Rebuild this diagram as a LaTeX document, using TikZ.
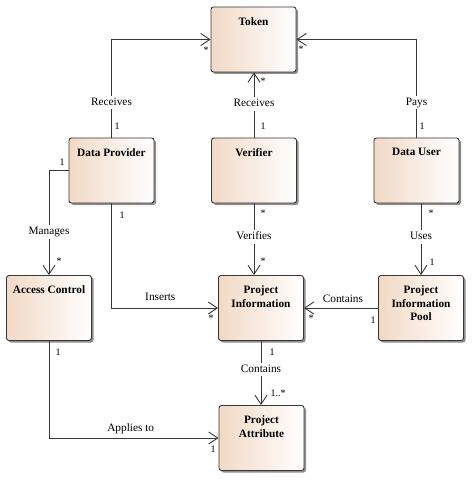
\documentclass[tikz,border=0pt]{standalone}
\usepackage{fontspec}
\setmainfont{Liberation Serif}
\usetikzlibrary{arrows.meta,shadows}
\definecolor{peach}{RGB}{242,217,198}
\definecolor{edge}{RGB}{55,55,55}
\tikzset{
  cls/.style={draw=edge, line width=0.9pt, rectangle, rounded corners=2.5pt,
    minimum width=85pt, minimum height=65pt, inner sep=0pt,
    left color=peach, right color=white,
    drop shadow={shadow xshift=2pt, shadow yshift=-2pt, fill=black!55, opacity=0.8}},
  ttl/.style={anchor=north, yshift=-10.5pt, inner sep=0pt, align=center,
    font=\fontsize{11.3pt}{13.6pt}\selectfont\bfseries},
  assoc/.style={draw=edge, line width=0.9pt, -{Straight Barb[length=9pt,width=12pt,line width=0.9pt]}},
  lbl/.style={inner sep=0pt, text height=7.5pt, text depth=2pt, font=\fontsize{11.3pt}{13.6pt}\selectfont},
  onl/.style={lbl, fill=white, inner xsep=0pt, inner ysep=2pt},
  mult/.style={inner sep=0pt, font=\fontsize{10pt}{12pt}\selectfont},
  star/.style={mult, yshift=-1.5pt},
}
\begin{document}
\begin{tikzpicture}[x=1pt,y=-1pt]
\useasboundingbox[fill=white] (0,0) rectangle (474,481);
% classes
\node[cls, label={[ttl]north:Token}] (token) at (253.5,39.5) {};
\node[cls, label={[ttl]north:Data Provider}] (dp) at (111.5,170.5) {};
\node[cls, label={[ttl]north:Verifier}] (ver) at (254,170.5) {};
\node[cls, label={[ttl]north:Data User}] (du) at (416.5,170.5) {};
\node[cls, label={[ttl]north:Access Control}] (ac) at (49,308) {};
\node[cls, label={[ttl]north:Project\\Information}] (pi) at (261,308) {};
\node[cls, label={[ttl]north:Project\\Information\\Pool}] (pip) at (421,308) {};
\node[cls, label={[ttl]north:Project\\Attribute}] (pa) at (261.5,438) {};
% associations
\draw[assoc] (dp.north) |- node[onl, pos=0.178] (l1) {Receives} (token.west);
\draw[assoc] (ver.north) -- node[onl, pos=0.515] (l2) {Receives} (ver.north |- token.south);
\draw[assoc] (du.north) |- node[onl, pos=0.178] (l3) {Pays} (token.east);
\draw[assoc] (dp.west) -| node[onl, pos=0.794] (l4) {Manages} (ac.north);
\draw[assoc] (dp.south) |- node[lbl, pos=0.729, above=5pt] (l5) {Inserts} (pi.west);
\draw[assoc] (ver.south) -- node[onl, pos=0.472] (l6) {Verifies} (ver.south |- pi.north);
\draw[assoc] (pip.north |- du.south) -- node[onl, pos=0.472] (l7) {Uses} (pip.north);
\draw[assoc] (pip.west) -- node[lbl, pos=0.474, above=3.5pt] (l8) {Contains} (pi.east);
\draw[assoc] (pi.south) -- node[onl, pos=0.446] (l9) {Contains} (pi.south |- pa.north);
\draw[assoc] (ac.south) |- node[lbl, pos=0.741, above=4pt] (l10) {Applies to} (pa.west);
% multiplicities
\node[mult] (m1) at (117,126) {1};
\node[star] (m2) at (206,49) {*};
\node[mult] (m3) at (263,126) {1};
\node[star] (m4) at (263,80) {*};
\node[mult] (m5) at (422,126) {1};
\node[star] (m6) at (301,48) {*};
\node[mult] (m7) at (62,162) {1};
\node[star] (m8) at (59,260) {*};
\node[mult] (m9) at (122,215) {1};
\node[star] (m10) at (211,317) {*};
\node[star] (m11) at (263,212) {*};
\node[star] (m12) at (263,260) {*};
\node[star] (m13) at (431,212) {*};
\node[mult] (m14) at (432,262) {1};
\node[mult] (m15) at (373,320) {1};
\node[star] (m16) at (311,317) {*};
\node[mult] (m17) at (272,352) {1};
\node[mult] (m18) at (278,393) {1..*};
\node[mult] (m19) at (58,352) {1};
\node[mult] (m20) at (213,449) {1};
\end{tikzpicture}
\end{document}
